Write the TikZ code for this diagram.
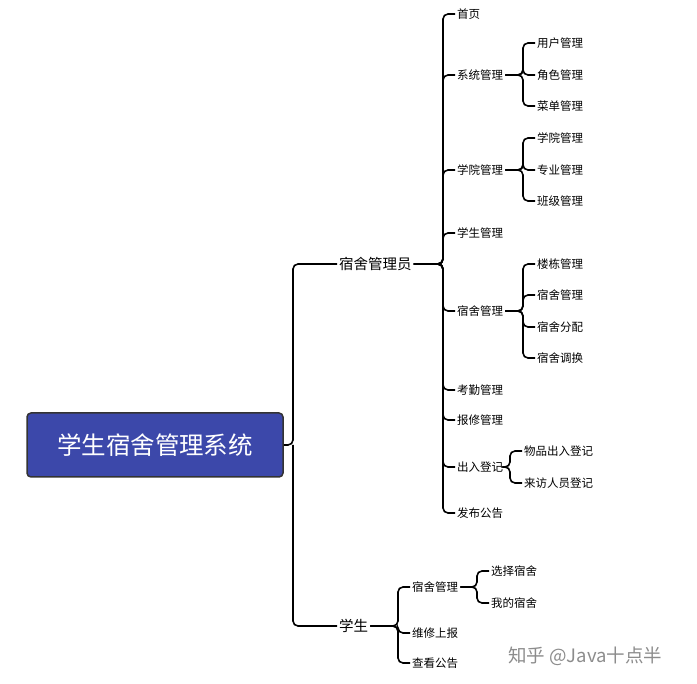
\documentclass[tikz,border=0pt]{standalone}
\usepackage{fontspec}
\setmainfont{Noto Sans CJK SC}
\begin{document}
\begin{tikzpicture}[x=1pt,y=-1pt,
  item/.style={anchor=west,inner sep=2pt,font=\fontsize{11.5}{12}\selectfont},
  big/.style={anchor=west,inner sep=2pt,font=\fontsize{14.5}{16}\selectfont},
  ln/.style={line width=1.6pt,rounded corners=5pt}]
\useasboundingbox (0,0) rectangle (697,684);
\node[draw=black!80,line width=1.5pt,fill={rgb,255:red,60;green,72;blue,170},rounded corners=4pt,minimum width=256pt,minimum height=64pt,text=white,font=\fontsize{24.5}{26}\selectfont] (root) at (155,445) {学生宿舍管理系统};
% level 1
\node[big] (a) at (337,264) {宿舍管理员};
\node[big] (b) at (337,626) {学生};
\draw[ln] (root.east) -- (293,445) |- (a.west);
\draw[ln] (293,445) |- (b.west);
% admin children
\foreach \n/\t/\y in {a1/首页/14,a2/系统管理/75,a3/学院管理/170,a4/学生管理/233,a5/宿舍管理/311,a6/考勤管理/390,a7/报修管理/420,a8/出入登记/467,a9/发布公告/513}
  {\node[item] (\n) at (455,\y) {\t}; \draw[ln] (a.east) -- (443,264) |- (\n.west);}
\foreach \n/\t/\y in {s1/用户管理/43,s2/角色管理/75,s3/菜单管理/106}
  {\node[item] (\n) at (535,\y) {\t}; \draw[ln] (a2.east) -- (523,75) |- (\n.west);}
\foreach \n/\t/\y in {c1/学院管理/138,c2/专业管理/170,c3/班级管理/201}
  {\node[item] (\n) at (535,\y) {\t}; \draw[ln] (a3.east) -- (523,170) |- (\n.west);}
\foreach \n/\t/\y in {d1/楼栋管理/264,d2/宿舍管理/295,d3/宿舍分配/327,d4/宿舍调换/358}
  {\node[item] (\n) at (535,\y) {\t}; \draw[ln] (a5.east) -- (523,311) |- (\n.west);}
\foreach \n/\t/\y in {e1/物品出入登记/451,e2/来访人员登记/483}
  {\node[item] (\n) at (522,\y) {\t}; \draw[ln] (a8.east) -- (510,467) |- (\n.west);}
% student children
\foreach \n/\t/\y in {b1/宿舍管理/587,b2/维修上报/633,b3/查看公告/663}
  {\node[item] (\n) at (410,\y) {\t}; \draw[ln] (b.east) -- (398,626) |- (\n.west);}
\foreach \n/\t/\y in {f1/选择宿舍/571,f2/我的宿舍/603}
  {\node[item] (\n) at (489,\y) {\t}; \draw[ln] (b1.east) -- (477,587) |- (\n.west);}
\node[anchor=west,inner sep=0pt,text=black!45,font=\fontsize{18.5}{20}\selectfont] (wm) at (508,656) {知乎 @Java十点半};
\end{tikzpicture}
\end{document}
